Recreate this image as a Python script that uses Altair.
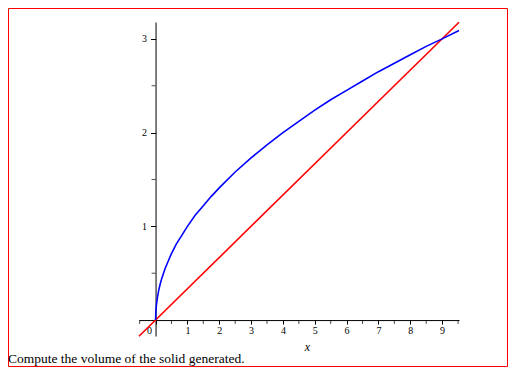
import altair as alt
import pandas as pd

# ---- data ----
curve_x = [0, 0.01, 0.03, 0.06, 0.1, 0.15, 0.2, 0.3, 0.4, 0.5, 0.65, 0.8, 1.0, 1.25, 1.5,
           1.75, 2.0, 2.5, 3.0, 3.5, 4.0, 4.5, 5.0, 5.5, 6.0, 6.5, 7.0, 7.5, 8.0, 8.5, 9.0, 9.53]
curve_y = [0, 0.1, 0.17, 0.245, 0.32, 0.39, 0.45, 0.55, 0.63, 0.71, 0.81, 0.89, 1.0, 1.12, 1.22,
           1.32, 1.41, 1.58, 1.73, 1.87, 2.0, 2.12, 2.24, 2.35, 2.45, 2.55, 2.65, 2.74, 2.83, 2.92, 3.0, 3.09]
line_x = [-0.52, 9.53]
line_y = [-0.173, 3.177]
x_major = [0, 1, 2, 3, 4, 5, 6, 7, 8, 9]
x_minor = [-0.5, 0.5, 1.5, 2.5, 3.5, 4.5, 5.5, 6.5, 7.5, 8.5, 9.5]
y_major = [1, 2, 3]
y_minor = [0.5, 1.5, 2.5]
x_title = "x"
caption = "Compute the volume of the solid generated."

X_DOMAIN = [-0.52, 9.53]
Y_DOMAIN = [-0.17, 3.18]
W, H = 320, 314
PAD = {"left": 131, "top": 14, "right": 49, "bottom": 31}
TOTAL_W = PAD["left"] + W + PAD["right"]
TOTAL_H = PAD["top"] + H + PAD["bottom"]

# offsets so the axes cross at the origin
x_axis_off = -(0 - Y_DOMAIN[0]) / (Y_DOMAIN[1] - Y_DOMAIN[0]) * H
y_axis_off = -(0 - X_DOMAIN[0]) / (X_DOMAIN[1] - X_DOMAIN[0]) * W

curve = pd.DataFrame({"x": curve_x, "y": curve_y})
line = pd.DataFrame({"x": line_x, "y": line_y})
xmin_df = pd.DataFrame({"x": x_minor, "y": [0] * len(x_minor)})
ymin_df = pd.DataFrame({"x": [0] * len(y_minor), "y": y_minor})

xs = alt.Scale(domain=X_DOMAIN, nice=False, zero=False)
ys = alt.Scale(domain=Y_DOMAIN, nice=False, zero=False)

serif = "Liberation Serif"

x_axis = alt.Axis(
    values=x_major, format="d", grid=False, offset=x_axis_off, tickSize=4,
    labelAlign={"condition": {"test": "datum.value == 0", "value": "right"}, "value": "center"},
    labelOffset={"condition": {"test": "datum.value == 0", "value": -4}, "value": 0},
    labelFont=serif, labelFontSize=10, labelColor="black", labelPadding=1,
    domainColor="black", tickColor="black", labelFlush=False, labelOverlap=False,
    title=x_title, titleFont=serif, titleFontSize=12, titleFontStyle="italic",
    titleFontWeight="normal", titleColor="black",
    titleX=168, titleY=26, titleAlign="center", titleBaseline="middle", titleAngle=0,
)
y_axis = alt.Axis(
    values=y_major, format="d", grid=False, offset=y_axis_off, tickSize=5,
    labelFont=serif, labelFontSize=10, labelColor="black", labelPadding=4,
    domainColor="black", tickColor="black", labelFlush=False, labelOverlap=False,
    title=None,
)


def enc(ch):
    return ch.encode(x=alt.X("x:Q", scale=xs, axis=x_axis), y=alt.Y("y:Q", scale=ys, axis=y_axis))


red = enc(alt.Chart(line).mark_line(color="#ff0000", strokeWidth=1.6))
blue = enc(alt.Chart(curve).mark_line(color="#0000ff", strokeWidth=1.6))
xminor = enc(alt.Chart(xmin_df).mark_tick(orient="vertical", size=4, thickness=1,
                                          color="black", yOffset=2))
yminor = enc(alt.Chart(ymin_df).mark_tick(orient="horizontal", size=4, thickness=1,
                                          color="black", xOffset=-2))

one = pd.DataFrame({"t": [caption]})
border = alt.Chart(one).mark_rect(fill="transparent", stroke="#ff0000", strokeWidth=1).encode(
    x=alt.value(0.5 - PAD["left"]), x2=alt.value(TOTAL_W - 0.5 - PAD["left"]),
    y=alt.value(0.5 - PAD["top"]), y2=alt.value(TOTAL_H - 0.5 - PAD["top"]))
text = alt.Chart(one).mark_text(align="left", baseline="alphabetic", font=serif,
                                fontSize=13.5, color="black").encode(
    x=alt.value(0 - PAD["left"]), y=alt.value(355 - PAD["top"]), text="t:N")

chart = alt.layer(red, blue, xminor, yminor, border, text).properties(
    width=W, height=H, padding=PAD, autosize="none"
).configure_view(stroke=None)

chart.save("out.html", embed_options={"renderer": "svg", "actions": False})
